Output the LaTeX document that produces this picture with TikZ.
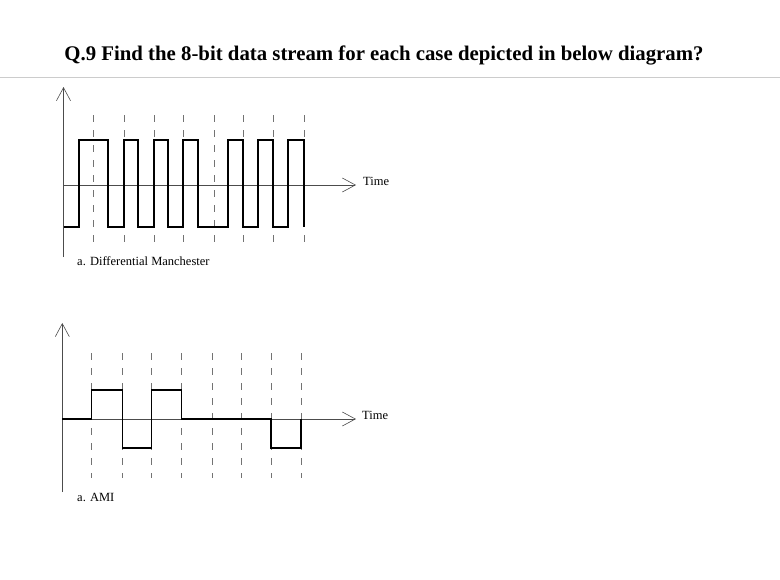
\documentclass[tikz,border=0pt]{standalone}
\usepackage{fontspec}
\setmainfont{Liberation Serif}
\usetikzlibrary{arrows.meta}
\begin{document}
\begin{tikzpicture}[x=1pt,y=-1pt,
  axis/.style={draw=black!70,line width=0.6pt,-{Straight Barb[length=13pt,width=14pt,line width=0.6pt]}},
  grid/.style={draw=black!55,line width=0.7pt,dash pattern=on 7pt off 8pt},
  wave/.style={draw=black,line width=1.2pt},
  lbl/.style={font=\fontsize{12.5}{14}\selectfont,inner sep=0pt,anchor=west}]
\useasboundingbox (0,0) rectangle (780,579);
\node[font=\bfseries\fontsize{20.8}{24}\selectfont] (title) at (384,55) {Q.9 Find the 8-bit data stream for each case depicted in below diagram?};
\draw[black!20,line width=0.8pt] (0,77) -- (780,77);
% Differential Manchester
\foreach \x in {93.3,124,154,183.3,214,243.3,273.3,304} \draw[grid] (\x,115) -- (\x,243);
\coordinate (ya) at (63.5,257); \coordinate (yb) at (63.5,87);
\draw[axis] (ya) -- (yb);
\coordinate (ta) at (63.5,185); \coordinate (tb) at (356,185);
\draw[axis] (ta) -- (tb);
\node[lbl] (time1) at (363,181) {Time};
\draw[wave] (63.5,227) -- (79,227) |- (108,140) |- (124,227) |- (138,140) |- (154,227) |- (168,140) |- (183,227) |- (198,140) |- (228,227) |- (243,140) |- (258,227) |- (273,140) |- (288,227) |- (304,140) -- (304,227);
\node[lbl] (lab1) at (77,261) {a. Differential Manchester};
% AMI
\foreach \x in {91.7,122.3,151.7,181.7,212.3,241.7,271,301} \draw[grid] (\x,353) -- (\x,478);
\coordinate (yc) at (62.3,492); \coordinate (yd) at (62.3,323);
\draw[axis] (yc) -- (yd);
\coordinate (tc) at (62.3,419); \coordinate (td) at (356,419);
\draw[axis] (tc) -- (td);
\node[lbl] (time2) at (362,415) {Time};
\draw[wave] (62.3,419) -- (91.7,419) |- (122.3,390) |- (151.7,448) |- (181.7,390) |- (271,419) |- (301,448) -- (301,419);
\node[lbl] (lab2) at (77,497) {a. AMI};
\end{tikzpicture}
\end{document}
